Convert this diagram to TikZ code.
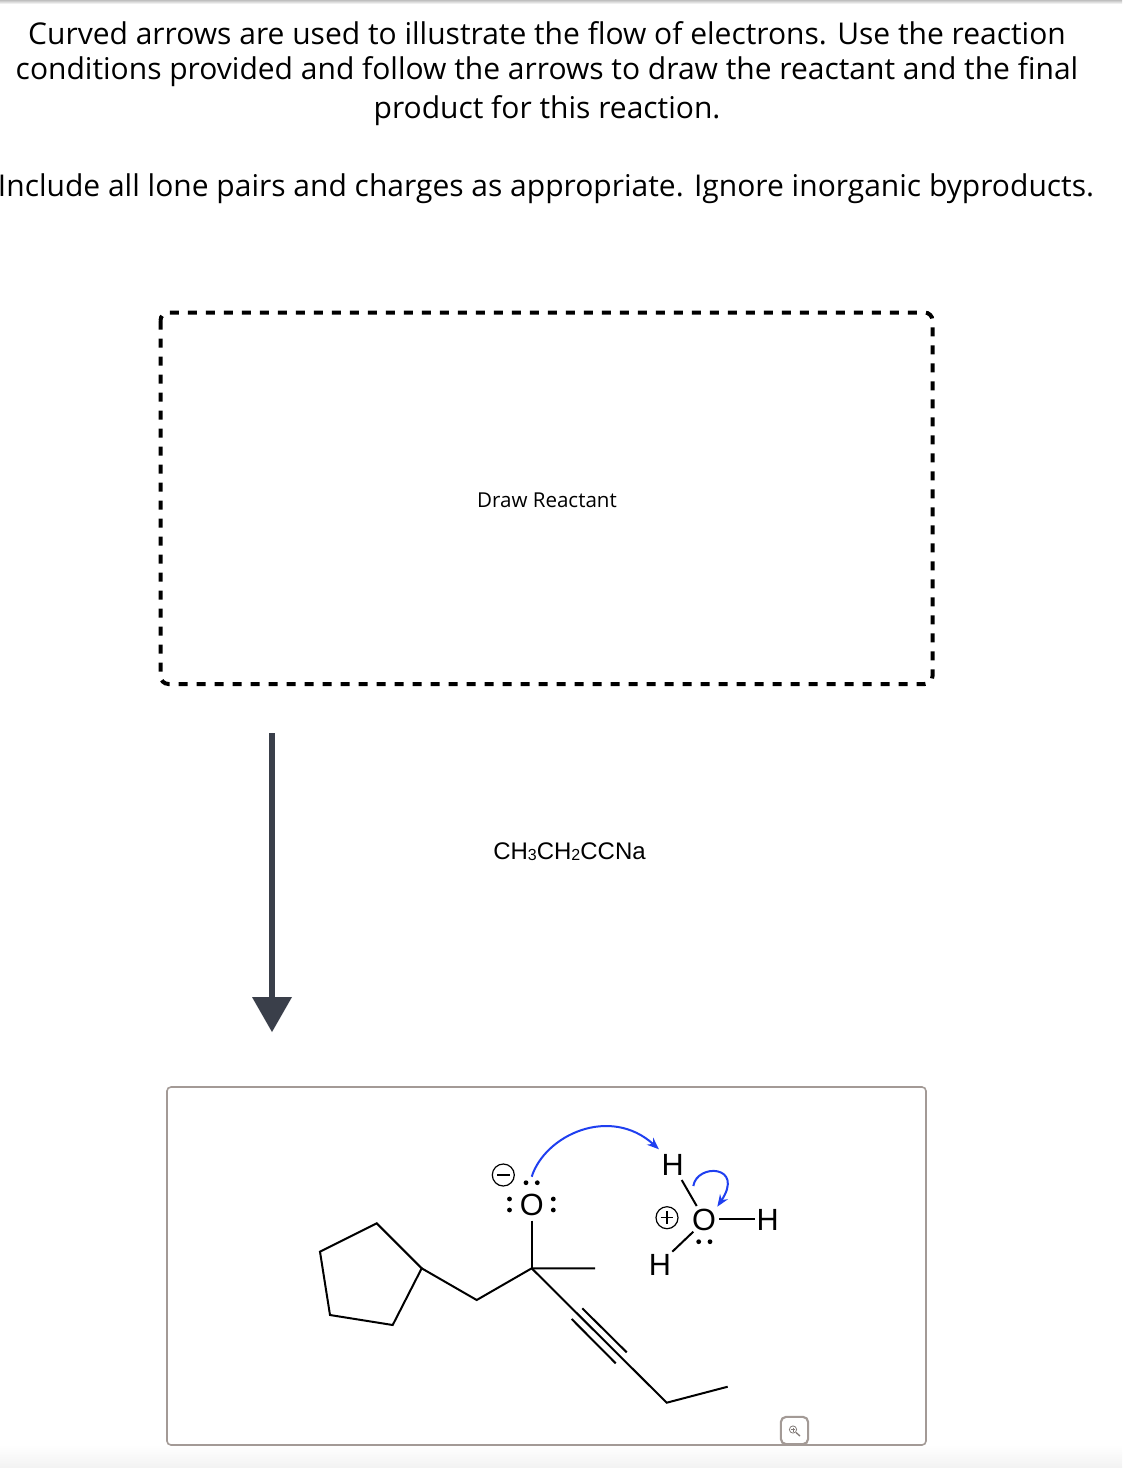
\documentclass[tikz,border=0pt]{standalone}
\usepackage{fontspec}
\setmainfont{Open Sans}
\newfontfamily\chemfont{Liberation Sans}
\usetikzlibrary{arrows.meta,calc}
\definecolor{boxline}{HTML}{A39A96}
\definecolor{arrowdark}{HTML}{3A3F4A}
\definecolor{curly}{HTML}{1F3FF0}
\newcommand{\qtext}{\fontsize{22.5}{29.25}\selectfont}
\tikzset{
  prompt/.style={inner sep=0,anchor=center,align=center,font=\qtext},
  atom/.style={inner sep=0,font=\chemfont\fontsize{23}{23}\selectfont},
  bond/.style={line width=1.5pt,black},
  lonedot/.style={circle,fill=black,inner sep=0,minimum size=3.6pt},
  chargering/.style={circle,draw=black,line width=0.9pt,inner sep=0,minimum size=16.5pt},
  flow/.style={draw=curly,line width=1.5pt,-{Stealth[length=9pt,width=7pt]}},
}
\begin{document}
\begin{tikzpicture}[x=0.75pt,y=-0.75pt]
\useasboundingbox (0,0) rectangle (1122,1468);
\fill[white] (0,0) rectangle (1122,1468);
\shade[top color=black!25,bottom color=white] (0,0) rectangle (1122,4);
\shade[top color=white,bottom color=black!5] (0,1445) rectangle (1122,1468);
% question
\node[prompt] (q1) at (547,33) {Curved arrows are used to illustrate the flow of electrons. Use the reaction};
\node[prompt] (q2) at (547,72) {conditions provided and follow the arrows to draw the reactant and the final};
\node[prompt] (q3) at (547,111) {product for this reaction.};
\node[prompt] (q4) at (546,189) {Include all lone pairs and charges as appropriate. Ignore inorganic byproducts.};
% reactant box
\draw[black,line width=3pt,dash pattern=on 6.75pt off 6.75pt,rounded corners=6pt] (160.5,312.5) rectangle (932.5,684);
\node[inner sep=0,font=\fontsize{15.4}{18}\selectfont] (draw) at (547,500) {Draw Reactant};
% reaction arrow
\coordinate (arrowtop) at (272,733);
\coordinate (arrowbase) at (272,997);
\draw[arrowdark,line width=5.2pt] (arrowtop) -- (arrowbase);
\fill[arrowdark] (252,997) -- (292,997) -- (272,1032) -- cycle;
\node[inner sep=0,font=\chemfont\fontsize{18}{18}\selectfont] (reagent) at (569.5,852) {CH\raisebox{-0.5pt}{\fontsize{12}{12}\selectfont 3}CH\raisebox{-0.5pt}{\fontsize{12}{12}\selectfont 2}CCNa};
% product box
\draw[boxline,line width=1.2pt,rounded corners=3pt] (167,1087) rectangle (926,1445);
\node[draw=boxline,line width=1.6pt,fill=white,rounded corners=4pt,minimum width=20.5pt,minimum height=20.5pt,inner sep=0] (zoombtn) at (794.5,1430.5) {};
\draw[boxline!80!black,line width=0.6pt] (793,1429.5) circle (3.6);
\draw[boxline!80!black,line width=1pt] (796,1432.5) -- (800,1436);
\draw[boxline!80!black,line width=0.4pt] (791,1429.5) -- (795,1429.5) (793,1427.5) -- (793,1431.5);
% skeleton
\coordinate (p1) at (376.7,1223.3);
\coordinate (p2) at (320,1251.7);
\coordinate (p3) at (330,1315);
\coordinate (p4) at (392.7,1325);
\coordinate (p5) at (421.7,1268.3);
\coordinate (ch2) at (476.7,1300);
\coordinate (cq) at (531.7,1268.3);
\coordinate (me) at (595,1268.3);
\coordinate (ca) at (666.7,1402.7);
\coordinate (et) at (727.7,1386.7);
\coordinate (t1a) at (582.3,1308.3);
\coordinate (t1b) at (626.7,1352.3);
\coordinate (t2a) at (571.7,1319);
\coordinate (t2b) at (615.7,1363.3);
\draw[bond,line join=miter] (p1) -- (p2) -- (p3) -- (p4) -- (p5) -- cycle;
\draw[bond,line join=miter] (p5) -- (ch2) -- (cq) -- (me);
\draw[bond,line join=miter] (cq) -- (ca) -- (et);
\draw[bond] (t1a) -- (t1b);
\draw[bond] (t2a) -- (t2b);
% alkoxide
\node[atom] (oa) at (531.7,1205) {O};
\coordinate (oabond) at (531.7,1220.7);
\draw[bond] (oabond) -- (cq);
\node[lonedot] (d1) at (526,1182.7) {};
\node[lonedot] (d2) at (537.3,1182.7) {};
\node[lonedot] (d3) at (509.5,1199) {};
\node[lonedot] (d4) at (509.5,1210) {};
\node[lonedot] (d5) at (553.3,1199) {};
\node[lonedot] (d6) at (553.3,1210) {};
\node[chargering] (minus) at (503.3,1175) {};
\draw[black,line width=0.9pt] (497,1175) -- (509.6,1175);
% hydronium
\node[atom] (ox) at (704,1220) {O};
\node[atom] (ht) at (672.7,1165) {H};
\node[atom] (hr) at (767.7,1220) {H};
\node[atom] (hl) at (660,1265) {H};
\coordinate (b1a) at (681.7,1180);
\coordinate (b1b) at (696.7,1206);
\coordinate (b2a) at (719.3,1219.3);
\coordinate (b2b) at (755,1219.3);
\coordinate (b3a) at (693.3,1231.7);
\coordinate (b3b) at (672.3,1251.7);
\draw[bond] (b1a) -- (b1b);
\draw[bond] (b2a) -- (b2b);
\draw[bond] (b3a) -- (b3b);
\node[lonedot] (d7) at (698.7,1241.7) {};
\node[lonedot] (d8) at (710,1241.7) {};
\node[chargering] (plus) at (667,1217.7) {};
\draw[black,line width=0.9pt] (660.7,1217.7) -- (673.3,1217.7) (667,1211.4) -- (667,1224);
% curved arrows
\coordinate (f1s) at (531.7,1176.7);
\coordinate (f1e) at (659,1149.3);
\coordinate (f2s) at (693.3,1186);
\coordinate (f2e) at (717.3,1206.7);
\draw[flow] (f1s) .. controls (545,1135) and (610,1105) .. (f1e);
\draw[flow] (f2s) .. controls (697,1163) and (745,1165) .. (f2e);
\end{tikzpicture}
\end{document}
